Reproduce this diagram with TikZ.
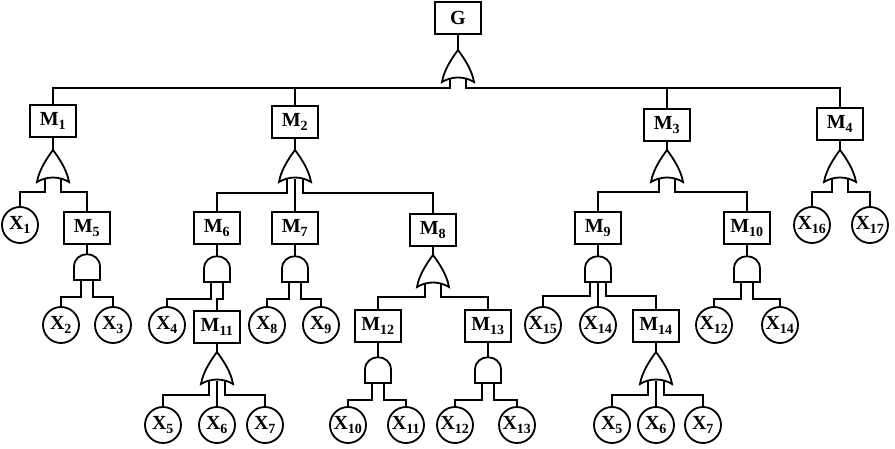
\documentclass[tikz,border=0pt]{standalone}
\usepackage{fontspec}
\setmainfont{Liberation Serif}
\begin{document}
\begin{tikzpicture}[x=1pt,y=-1pt,line width=1.8pt,
  box/.style={draw,fill=white,minimum width=46pt,minimum height=32pt,inner sep=2pt,font=\fontsize{20}{20}\selectfont\bfseries},
  ev/.style={draw,circle,fill=white,minimum size=36pt,inner sep=0pt,font=\fontsize{20}{20}\selectfont\bfseries},
  orgate/.pic={
    \draw[fill=white] (0,0) .. controls (6,8) and (14,20) .. (16,32)
      .. controls (6,26) and (-6,26) .. (-16,32)
      .. controls (-14,20) and (-6,8) .. (0,0) -- cycle;
    \coordinate (-t) at (0,0);
    \coordinate (-o) at (0,29);},
  andgate/.pic={
    \draw[fill=white] (-13,26) -- (-13,13) .. controls (-13,-4) and (13,-4) .. (13,13) -- (13,26) -- cycle;
    \coordinate (-t) at (0,0);
    \coordinate (-o) at (0,26);}
]
\useasboundingbox (0,0) rectangle (895,449);
% boxes
\node[box] (G) at (458,18) {G};
\node[box] (M1) at (53,121) {M\textsubscript{1}};
\node[box] (M2) at (295,122) {M\textsubscript{2}};
\node[box] (M3) at (667,125) {M\textsubscript{3}};
\node[box] (M4) at (840,124) {M\textsubscript{4}};
\node[box] (M5) at (87,228) {M\textsubscript{5}};
\node[box] (M6) at (217,228) {M\textsubscript{6}};
\node[box] (M7) at (295,228) {M\textsubscript{7}};
\node[box] (M8) at (433,230) {M\textsubscript{8}};
\node[box] (M9) at (598,228) {M\textsubscript{9}};
\node[box] (M10) at (747,228) {M\textsubscript{10}};
\node[box] (M11) at (217,327) {M\textsubscript{11}};
\node[box] (M12) at (378,326) {M\textsubscript{12}};
\node[box] (M13) at (488,326) {M\textsubscript{13}};
\node[box] (M14) at (656,326) {M\textsubscript{14}};
% basic events
\node[ev] (X1) at (20,225) {X\textsubscript{1}};
\node[ev] (X2) at (61,325) {X\textsubscript{2}};
\node[ev] (X3) at (113,325) {X\textsubscript{3}};
\node[ev] (X4) at (167,325) {X\textsubscript{4}};
\node[ev] (X8) at (267,325) {X\textsubscript{8}};
\node[ev] (X9) at (321,325) {X\textsubscript{9}};
\node[ev] (X5a) at (163,425) {X\textsubscript{5}};
\node[ev] (X6a) at (217,425) {X\textsubscript{6}};
\node[ev] (X7a) at (265,425) {X\textsubscript{7}};
\node[ev] (X10) at (348,425) {X\textsubscript{10}};
\node[ev] (X11) at (406,425) {X\textsubscript{11}};
\node[ev] (X12a) at (455,425) {X\textsubscript{12}};
\node[ev] (X13) at (517,425) {X\textsubscript{13}};
\node[ev] (X15) at (543,325) {X\textsubscript{15}};
\node[ev] (X14a) at (598,325) {X\textsubscript{14}};
\node[ev] (X5b) at (612,425) {X\textsubscript{5}};
\node[ev] (X6b) at (656,425) {X\textsubscript{6}};
\node[ev] (X7b) at (703,425) {X\textsubscript{7}};
\node[ev] (X12b) at (714,325) {X\textsubscript{12}};
\node[ev] (X14b) at (780,325) {X\textsubscript{14}};
\node[ev] (X16) at (812,225) {X\textsubscript{16}};
\node[ev] (X17) at (870,225) {X\textsubscript{17}};
% gates
\pic (gG) at (458,50) {orgate};
\pic (g1) at (53,150) {orgate};
\pic (g2) at (295,150) {orgate};
\pic (g3) at (667,150) {orgate};
\pic (g4) at (840,150) {orgate};
\pic (g5) at (87,254) {andgate};
\pic (g6) at (217,256) {andgate};
\pic (g7) at (295,256) {andgate};
\pic (g8) at (433,255) {orgate};
\pic (g9) at (598,256) {andgate};
\pic (g10) at (747,256) {andgate};
\pic (g11) at (217,352) {orgate};
\pic (g12) at (378,357) {andgate};
\pic (g13) at (488,357) {andgate};
\pic (g14) at (656,352) {orgate};
% box to gate
\foreach \m/\g in {G/gG,M1/g1,M2/g2,M3/g3,M4/g4,M5/g5,M6/g6,M7/g7,M8/g8,M9/g9,M10/g10,M11/g11,M12/g12,M13/g13,M14/g14}
  \draw (\m) -- (\g-t);
% gate to inputs
\draw ([xshift=-8pt]gG-o) -- ++(0,9) -| (M1);
\draw ([xshift=-8pt]gG-o) -- ++(0,9) -| (M2);
\draw ([xshift=8pt]gG-o) -- ++(0,9) -| (M3);
\draw ([xshift=8pt]gG-o) -- ++(0,9) -| (M4);
\draw ([xshift=-8pt]g1-o) -- ++(0,13) -| (X1);
\draw ([xshift=8pt]g1-o) -- ++(0,13) -| (M5);
\draw ([xshift=-8pt]g2-o) -- ++(0,14) -| (M6);
\draw (g2-o) -- (M7);
\draw ([xshift=8pt]g2-o) -- ++(0,14) -| (M8);
\draw ([xshift=-8pt]g3-o) -- ++(0,13) -| (M9);
\draw ([xshift=8pt]g3-o) -- ++(0,13) -| (M10);
\draw ([xshift=-8pt]g4-o) -- ++(0,13) -| (X16);
\draw ([xshift=8pt]g4-o) -- ++(0,13) -| (X17);
\draw ([xshift=-6pt]g5-o) -- ++(0,17) -| (X2);
\draw ([xshift=6pt]g5-o) -- ++(0,17) -| (X3);
\draw ([xshift=-6pt]g6-o) -- ++(0,17) -| (X4);
\draw ([xshift=6pt]g6-o) -- ++(0,17) -| (M11);
\draw ([xshift=-6pt]g7-o) -- ++(0,17) -| (X8);
\draw ([xshift=6pt]g7-o) -- ++(0,17) -| (X9);
\draw ([xshift=-8pt]g8-o) -- ++(0,13) -| (M12);
\draw ([xshift=8pt]g8-o) -- ++(0,13) -| (M13);
\draw ([xshift=-8pt]g9-o) -- ++(0,14) -| (X15);
\draw (g9-o) -- (X14a);
\draw ([xshift=8pt]g9-o) -- ++(0,14) -| (M14);
\draw ([xshift=-6pt]g10-o) -- ++(0,17) -| (X12b);
\draw ([xshift=6pt]g10-o) -- ++(0,17) -| (X14b);
\draw ([xshift=-8pt]g11-o) -- ++(0,14) -| (X5a);
\draw (g11-o) -- (X6a);
\draw ([xshift=8pt]g11-o) -- ++(0,14) -| (X7a);
\draw ([xshift=-6pt]g12-o) -- ++(0,17) -| (X10);
\draw ([xshift=6pt]g12-o) -- ++(0,17) -| (X11);
\draw ([xshift=-6pt]g13-o) -- ++(0,17) -| (X12a);
\draw ([xshift=6pt]g13-o) -- ++(0,17) -| (X13);
\draw ([xshift=-8pt]g14-o) -- ++(0,14) -| (X5b);
\draw (g14-o) -- (X6b);
\draw ([xshift=8pt]g14-o) -- ++(0,14) -| (X7b);
\end{tikzpicture}
\end{document}
